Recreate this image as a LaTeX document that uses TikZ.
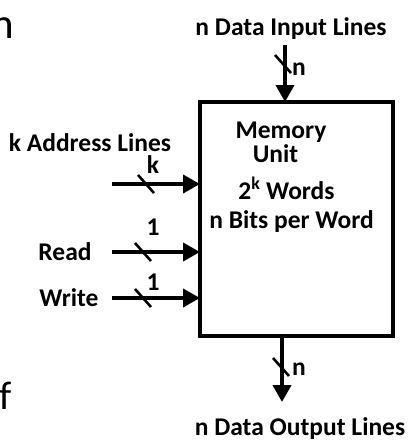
\documentclass[tikz,border=0pt]{standalone}
\usepackage{fontspec}
\setmainfont{Carlito}
\usetikzlibrary{arrows.meta}
\tikzset{
  bus/.style={line width=4pt,-{Triangle[length=17pt,width=18pt]}},
  slash/.style={line width=2.6pt},
  lbl/.style={font=\bfseries\fontsize{25.5}{28}\selectfont,inner sep=0pt},
}

\begin{document}
\begin{tikzpicture}[x=1pt,y=-1pt]
      \useasboundingbox (0,0) rectangle (412,448);
      % slide fragments cut at the left edge
      \node[font=\fontsize{43}{46}\selectfont,inner sep=0pt,anchor=base east] (fragn) at (14,38) {n};
      \node[font=\fontsize{40}{44}\selectfont,inner sep=0pt,anchor=base west] (fragf) at (-1,409) {f};
      % memory block
      \node[draw,line width=4pt,minimum width=193pt,minimum height=234pt,outer sep=0pt] (mem) at (296.5,219) {};
      \node[lbl,anchor=base] (memory) at (281,138) {Memory};
      \node[lbl,anchor=base] (unit) at (275.5,162) {Unit};
      \node[lbl,anchor=base] (words) at (286.5,199) {2\textsuperscript{k} Words};
      \node[lbl,anchor=base] (bits) at (291.5,228) {n Bits per Word};
      % inputs and outputs
      \coordinate (din) at (285,45);
      \coordinate (ain) at (112,184);
      \coordinate (rin) at (112,252);
      \coordinate (win) at (112,298);
      \coordinate (dout) at (282,402);
      \draw[bus] (din) -- (din |- mem.north);
      \draw[bus] (ain) -- (ain -| mem.west);
      \draw[bus] (rin) -- (rin -| mem.west);
      \draw[bus] (win) -- (win -| mem.west);
      \draw[bus] (dout |- mem.south) -- (dout);
      \foreach \p in {(283,64),(146,184),(143,252),(143,298),(281,367)}
        \draw[slash] \p ++(-8,-9) -- ++(16,18);
      % labels
      \node[lbl,anchor=base] (dinlbl) at (291,35) {n Data Input Lines};
      \node[lbl,anchor=base] (dinw) at (299,75) {n};
      \node[lbl,anchor=base] (ainlbl) at (90,151) {k Address Lines};
      \node[lbl,anchor=base] (ainw) at (153,173) {k};
      \node[lbl,anchor=base] (rinlbl) at (65,260) {Read};
      \node[lbl,anchor=base] (rinw) at (153,235) {1};
      \node[lbl,anchor=base] (winlbl) at (69,306) {Write};
      \node[lbl,anchor=base] (winw) at (153,290) {1};
      \node[lbl,anchor=base] (doutw) at (299,375) {n};
      \node[lbl,anchor=base] (doutlbl) at (300,435) {n Data Output Lines};
    \end{tikzpicture}
\end{document}
